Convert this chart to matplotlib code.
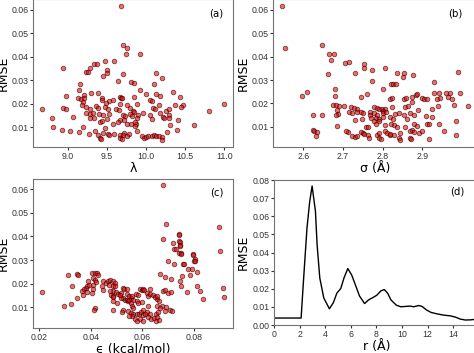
import matplotlib.pyplot as plt

# ---- data ----
# (a) lambda vs RMSE
lam = [9.685, 9.70, 9.76, 9.74, 9.92, 9.59, 9.47, 9.33, 9.37, 9.28, 8.93, 9.50, 9.50,
       9.23, 9.26, 9.71, 9.45, 10.13, 10.20, 9.64, 9.81, 9.84, 9.15, 10.10, 9.92, 9.14,
       10.34, 9.29, 9.38, 10.00, 10.13, 10.18, 8.97, 9.20, 9.13, 9.17, 9.21, 9.43, 9.44,
       9.66, 9.68, 9.69, 9.57, 9.84, 10.43, 10.05, 10.07, 9.19, 9.18, 9.53, 9.49, 9.66,
       9.75, 9.89, 10.16, 10.37, 10.47, 10.45, 8.67, 11.00, 10.80, 8.94, 8.97, 9.23, 9.28,
       9.36, 9.39, 9.48, 9.51, 9.62, 9.65, 9.80, 9.83, 9.85, 9.96, 10.09, 10.12, 10.25,
       10.30, 9.23, 9.28, 9.32, 9.40, 9.45, 9.53, 9.71, 9.73, 9.79, 9.82, 9.90, 10.05,
       10.18, 10.30, 9.07, 8.79, 9.28, 9.33, 9.50, 9.66, 9.72, 9.89, 10.08, 10.22, 10.23,
       10.30, 10.41, 9.41, 9.43, 9.57, 9.64, 9.75, 9.81, 9.87, 9.86, 8.81, 9.19, 9.47,
       9.86, 10.31, 10.61, 8.92, 9.03, 9.14, 9.27, 9.34, 9.39, 9.45, 9.51, 9.53, 9.59,
       9.66, 9.72, 9.71, 9.78, 9.88, 9.95, 9.97, 10.00, 10.03, 10.07, 10.10, 10.13,
       10.17, 10.20, 10.21, 9.41, 9.42, 9.67, 9.69, 9.76, 10.27, 10.40]
rmse_a = [0.0617, 0.0452, 0.0438, 0.0410, 0.0410, 0.0384, 0.0382, 0.0370, 0.0370, 0.0353,
          0.0353, 0.0345, 0.0330, 0.0335, 0.0333, 0.0325, 0.0320, 0.0332, 0.0310, 0.0297,
          0.0293, 0.0287, 0.0283, 0.0283, 0.0260, 0.0260, 0.0250, 0.0245, 0.0245, 0.0240,
          0.0240, 0.0234, 0.0231, 0.0236, 0.0222, 0.0220, 0.0222, 0.0222, 0.0216, 0.0230,
          0.0222, 0.0226, 0.0217, 0.0227, 0.0227, 0.0217, 0.0210, 0.0208, 0.0195, 0.0210,
          0.0203, 0.0200, 0.0195, 0.0200, 0.0192, 0.0192, 0.0194, 0.0185, 0.0175, 0.0199,
          0.0168, 0.0180, 0.0178, 0.0184, 0.0178, 0.0190, 0.0182, 0.0184, 0.0178, 0.0178,
          0.0172, 0.0180, 0.0170, 0.0163, 0.0160, 0.0180, 0.0178, 0.0168, 0.0178, 0.0162,
          0.0156, 0.0160, 0.0155, 0.0152, 0.0155, 0.0153, 0.0148, 0.0155, 0.0148, 0.0150,
          0.0150, 0.0160, 0.0150, 0.0142, 0.0140, 0.0138, 0.0138, 0.0133, 0.0130, 0.0130,
          0.0138, 0.0135, 0.0142, 0.0140, 0.0140, 0.0130, 0.0123, 0.0127, 0.0115, 0.0120,
          0.0115, 0.0112, 0.0112, 0.0120, 0.0100, 0.0100, 0.0096, 0.0104, 0.0107, 0.0107,
          0.0086, 0.0082, 0.0079, 0.0072, 0.0082, 0.0068, 0.0076, 0.0070, 0.0066, 0.0072,
          0.0065, 0.0074, 0.0068, 0.0072, 0.0082, 0.0060, 0.0052, 0.0058, 0.0062, 0.0063,
          0.0066, 0.0063, 0.0060, 0.0056, 0.0044, 0.0052, 0.0048, 0.0053, 0.0050, 0.0062,
          0.0079, 0.0086]

# (b) sigma vs RMSE
sigma = [2.547, 2.553, 2.647, 2.664, 2.678, 2.670, 2.705, 2.714, 2.754, 2.754, 2.773, 2.805,
         2.662, 2.730, 2.835, 2.853, 2.852, 2.876, 2.990, 2.773, 2.820, 2.827, 2.834, 2.930,
         2.680, 2.681, 2.800, 2.596, 2.610, 2.760, 2.745, 2.818, 2.824, 2.853, 2.859, 2.875,
         2.898, 2.903, 2.912, 2.937, 2.945, 2.965, 2.975, 2.960, 2.970, 2.995, 2.883, 2.887,
         2.929, 2.941, 2.875, 2.940, 2.980, 3.014, 2.675, 2.683, 2.689, 2.702, 2.721, 2.727,
         2.735, 2.777, 2.785, 2.792, 2.798, 2.806, 2.802, 2.802, 2.808, 2.823, 2.857, 2.865,
         2.890, 2.925, 2.684, 2.688, 2.715, 2.722, 2.735, 2.745, 2.750, 2.767, 2.769, 2.779,
         2.785, 2.832, 2.840, 2.853, 2.870, 2.908, 2.925, 2.625, 2.647, 2.683, 2.771, 2.784,
         2.792, 2.802, 2.819, 2.827, 2.861, 2.878, 2.730, 2.747, 2.777, 2.790, 2.684, 2.758,
         2.762, 2.784, 2.807, 2.821, 2.828, 2.836, 2.857, 2.878, 2.887, 2.912, 2.918, 2.941,
         2.984, 2.624, 2.627, 2.635, 2.633, 2.712, 2.708, 2.722, 2.730, 2.735, 2.745, 2.750,
         2.754, 2.762, 2.785, 2.792, 2.807, 2.811, 2.818, 2.819, 2.828, 2.790, 2.796, 2.841,
         2.843, 2.870, 2.872, 2.891, 2.900, 2.916, 2.870, 2.874, 2.878, 2.954, 2.984, 2.843,
         2.765]
rmse_b = [0.0617, 0.0438, 0.0450, 0.0410, 0.0410, 0.0384, 0.0372, 0.0378, 0.0370, 0.0353,
          0.0345, 0.0353, 0.0325, 0.0330, 0.0330, 0.0330, 0.0312, 0.0322, 0.0335, 0.0298,
          0.0283, 0.0284, 0.0283, 0.0293, 0.0260, 0.0234, 0.0260, 0.0231, 0.0250, 0.0240,
          0.0227, 0.0218, 0.0222, 0.0220, 0.0222, 0.0227, 0.0224, 0.0218, 0.0219, 0.0220,
          0.0224, 0.0227, 0.0218, 0.0245, 0.0245, 0.0245, 0.0237, 0.0240, 0.0245, 0.0245,
          0.0206, 0.0190, 0.0192, 0.0190, 0.0195, 0.0193, 0.0191, 0.0190, 0.0184, 0.0180,
          0.0178, 0.0184, 0.0180, 0.0178, 0.0176, 0.0178, 0.0166, 0.0160, 0.0164, 0.0185,
          0.0184, 0.0188, 0.0170, 0.0178, 0.0170, 0.0156, 0.0162, 0.0157, 0.0162, 0.0162,
          0.0160, 0.0162, 0.0150, 0.0160, 0.0152, 0.0156, 0.0160, 0.0150, 0.0160, 0.0145,
          0.0142, 0.0150, 0.0152, 0.0152, 0.0138, 0.0138, 0.0135, 0.0142, 0.0142, 0.0135,
          0.0135, 0.0150, 0.0130, 0.0133, 0.0123, 0.0123, 0.0104, 0.0100, 0.0100, 0.0110,
          0.0108, 0.0110, 0.0106, 0.0100, 0.0100, 0.0110, 0.0103, 0.0114, 0.0110, 0.0110,
          0.0123, 0.0085, 0.0080, 0.0076, 0.0060, 0.0076, 0.0083, 0.0062, 0.0058, 0.0062,
          0.0078, 0.0074, 0.0070, 0.0066, 0.0066, 0.0073, 0.0080, 0.0074, 0.0066, 0.0069,
          0.0063, 0.0052, 0.0050, 0.0052, 0.0043, 0.0052, 0.0050, 0.0072, 0.0080, 0.0050,
          0.0082, 0.0085, 0.0078, 0.0080, 0.0066, 0.0072, 0.0051]

# (c) epsilon vs RMSE
eps = [0.0681, 0.0690, 0.0681, 0.0740, 0.0743, 0.0740, 0.0746, 0.0720, 0.0744, 0.0747,
       0.0722, 0.0728, 0.0743, 0.0748, 0.0751, 0.0794, 0.0797, 0.0804, 0.0801, 0.0898,
       0.0900, 0.0698, 0.0722, 0.0755, 0.0760, 0.0805, 0.0778, 0.0791, 0.0752, 0.0785,
       0.0810, 0.0668, 0.0687, 0.0709, 0.0745, 0.0750, 0.0810, 0.0823, 0.0771, 0.0834,
       0.0911, 0.0916, 0.0679, 0.0688, 0.0697, 0.0710, 0.0655, 0.0690, 0.0707, 0.0713,
       0.0688, 0.0675, 0.0212, 0.0296, 0.0322, 0.0313, 0.0345, 0.0329, 0.0350, 0.0347,
       0.0364, 0.0373, 0.0383, 0.0386, 0.0368, 0.0384, 0.0403, 0.0416, 0.0422, 0.0426,
       0.0410, 0.0416, 0.0419, 0.0410, 0.0410, 0.0394, 0.0390, 0.0448, 0.0459, 0.0445,
       0.0448, 0.0468, 0.0474, 0.0487, 0.0494, 0.0472, 0.0485, 0.0494, 0.0487, 0.0497,
       0.0523, 0.0530, 0.0540, 0.0474, 0.0477, 0.0485, 0.0487, 0.0507, 0.0516, 0.0487,
       0.0500, 0.0487, 0.0541, 0.0549, 0.0554, 0.0558, 0.0562, 0.0526, 0.0532, 0.0539,
       0.0545, 0.0549, 0.0554, 0.0560, 0.0562, 0.0523, 0.0519, 0.0578, 0.0584, 0.0545,
       0.0554, 0.0565, 0.0558, 0.0578, 0.0588, 0.0593, 0.0591, 0.0597, 0.0603, 0.0606,
       0.0576, 0.0584, 0.0416, 0.0413, 0.0600, 0.0623, 0.0629, 0.0616, 0.0623, 0.0629,
       0.0642, 0.0648, 0.0655, 0.0403, 0.0603, 0.0616, 0.0629, 0.0603, 0.0610, 0.0623,
       0.0634, 0.0644, 0.0652, 0.0663, 0.0652, 0.0658, 0.0661, 0.0658, 0.0666, 0.0662,
       0.0571, 0.0580, 0.0591, 0.0603, 0.0546, 0.0516, 0.0513]
rmse_c = [0.0617, 0.0451, 0.0388, 0.0411, 0.0407, 0.0381, 0.0377, 0.0373, 0.0362, 0.0359,
          0.0348, 0.0345, 0.0330, 0.0330, 0.0327, 0.0325, 0.0320, 0.0303, 0.0296, 0.0441,
          0.0338, 0.0295, 0.0282, 0.0285, 0.0285, 0.0295, 0.0260, 0.0260, 0.0232, 0.0235,
          0.0249, 0.0239, 0.0230, 0.0218, 0.0210, 0.0189, 0.0190, 0.0170, 0.0164, 0.0135,
          0.0182, 0.0144, 0.0167, 0.0171, 0.0160, 0.0163, 0.0135, 0.0101, 0.0086, 0.0082,
          0.0083, 0.0104, 0.0164, 0.0107, 0.0115, 0.0235, 0.0242, 0.0189, 0.0235, 0.0140,
          0.0168, 0.0176, 0.0183, 0.0190, 0.0150, 0.0164, 0.0246, 0.0243, 0.0246, 0.0235,
          0.0225, 0.0215, 0.0206, 0.0196, 0.0178, 0.0195, 0.0209, 0.0212, 0.0203, 0.0189,
          0.0172, 0.0212, 0.0215, 0.0210, 0.0203, 0.0195, 0.0188, 0.0191, 0.0167, 0.0163,
          0.0182, 0.0175, 0.0175, 0.0167, 0.0153, 0.0146, 0.0142, 0.0156, 0.0159, 0.0126,
          0.0116, 0.0086, 0.0156, 0.0146, 0.0139, 0.0146, 0.0132, 0.0139, 0.0132, 0.0129,
          0.0125, 0.0132, 0.0118, 0.0104, 0.0097, 0.0090, 0.0080, 0.0125, 0.0118, 0.0083,
          0.0076, 0.0069, 0.0062, 0.0073, 0.0070, 0.0080, 0.0177, 0.0174, 0.0178, 0.0172,
          0.0156, 0.0150, 0.0097, 0.0090, 0.0120, 0.0106, 0.0178, 0.0160, 0.0146, 0.0157,
          0.0151, 0.0141, 0.0147, 0.0159, 0.0087, 0.0080, 0.0073, 0.0066, 0.0070, 0.0059,
          0.0050, 0.0054, 0.0043, 0.0046, 0.0072, 0.0058, 0.0079, 0.0104, 0.0097, 0.0125,
          0.0049, 0.0042, 0.0049, 0.0042, 0.0062, 0.0139, 0.0153]

# (d) RMSE as a function of r
r = [0.0, 2.12, 2.32, 2.58, 2.79, 2.98, 3.24, 3.37, 3.58, 3.89, 4.33, 4.65, 4.91, 5.22,
     5.48, 5.77, 6.08, 6.34, 6.68, 7.08, 7.39, 7.73, 8.04, 8.36, 8.62, 8.88, 9.14, 9.56,
     9.92, 10.26, 10.65, 10.91, 11.31, 11.57, 11.91, 12.27, 12.74, 13.26, 13.79, 14.18,
     14.57, 14.96, 15.35, 15.64]
rmse_r = [0.0039, 0.0039, 0.0260, 0.0536, 0.0680, 0.0767, 0.0628, 0.0444, 0.0260, 0.0150,
          0.0090, 0.0125, 0.0176, 0.0202, 0.0262, 0.0312, 0.0275, 0.0226, 0.0161, 0.0119,
          0.0139, 0.0152, 0.0165, 0.0189, 0.0196, 0.0176, 0.0139, 0.0110, 0.0101, 0.0103,
          0.0105, 0.0101, 0.0108, 0.0103, 0.0084, 0.0070, 0.0062, 0.0055, 0.0051, 0.0044,
          0.0033, 0.0028, 0.0029, 0.0031]

plt.rcParams.update({
    'font.family': 'DejaVu Sans',
    'font.size': 7,
    'axes.labelsize': 9,
    'axes.edgecolor': '0.45',
    'axes.linewidth': 0.8,
    'xtick.major.size': 2.2,
    'ytick.major.size': 2.2,
    'xtick.major.pad': 1.5,
    'ytick.major.pad': 1.0,
    'xtick.color': '0.2',
    'ytick.color': '0.2',
})

fig = plt.figure(figsize=(4.74, 3.53), dpi=100)
ax_a = fig.add_axes([0.070, 0.584, 0.422, 0.418])
ax_b = fig.add_axes([0.576, 0.584, 0.430, 0.418])
ax_c = fig.add_axes([0.070, 0.072, 0.422, 0.422])
ax_d = fig.add_axes([0.578, 0.079, 0.432, 0.411])

scatter_kw = dict(s=11, c='red', alpha=0.6, edgecolors='k', linewidths=0.6)

ax_a.scatter(lam, rmse_a, **scatter_kw)
ax_a.set_xlabel('λ', labelpad=0.5)
ax_a.set_xticks([9.0, 9.5, 10.0, 10.5, 11.0])

ax_b.scatter(sigma, rmse_b, **scatter_kw)
ax_b.set_xlabel('σ (Å)', labelpad=0.5)
ax_b.set_xticks([2.6, 2.7, 2.8, 2.9])

ax_c.scatter(eps, rmse_c, **scatter_kw)
ax_c.set_xlabel('ϵ (kcal/mol)', labelpad=0.5)
ax_c.set_xticks([0.02, 0.04, 0.06, 0.08])

ax_d.plot(r, rmse_r, color='k', linewidth=1.0)
ax_d.set_xlim(0, 16)
ax_d.set_ylim(0, 0.08)
ax_d.set_xticks(range(0, 15, 2))
ax_d.set_yticks([0.0, 0.01, 0.02, 0.03, 0.04, 0.05, 0.06, 0.07, 0.08])
ax_d.set_yticklabels(['0.00', '0.01', '0.02', '0.03', '0.04', '0.05', '0.06', '0.07', '0.08'])
ax_d.set_xlabel('r (Å)', labelpad=0.5)

for ax in (ax_a, ax_b, ax_c):
    ax.set_yticks([0.01, 0.02, 0.03, 0.04, 0.05, 0.06])

# panel tags, placed where they sit in the source
tag_pos = {ax_a: (0.913, 0.905), ax_b: (0.893, 0.905),
           ax_c: (0.92, 0.904), ax_d: (0.897, 0.922)}
for ax, tag in zip((ax_a, ax_b, ax_c, ax_d), ('(a)', '(b)', '(c)', '(d)')):
    ax.set_ylabel('RMSE')
    ax.tick_params(labelsize=6.3, labelfontfamily='Liberation Sans')
    tx, ty = tag_pos[ax]
    ax.text(tx, ty, tag, transform=ax.transAxes, ha='center', va='center', fontsize=7.3)

# y labels sit close to the tick labels (left ones partly cut, as in the source)
ax_a.yaxis.set_label_coords(-0.1175, 0.5)
ax_c.yaxis.set_label_coords(-0.1175, 0.5)
ax_b.yaxis.set_label_coords(-0.116, 0.5)
ax_d.yaxis.set_label_coords(-0.12, 0.5)

fig.savefig('out.png', dpi=100)
